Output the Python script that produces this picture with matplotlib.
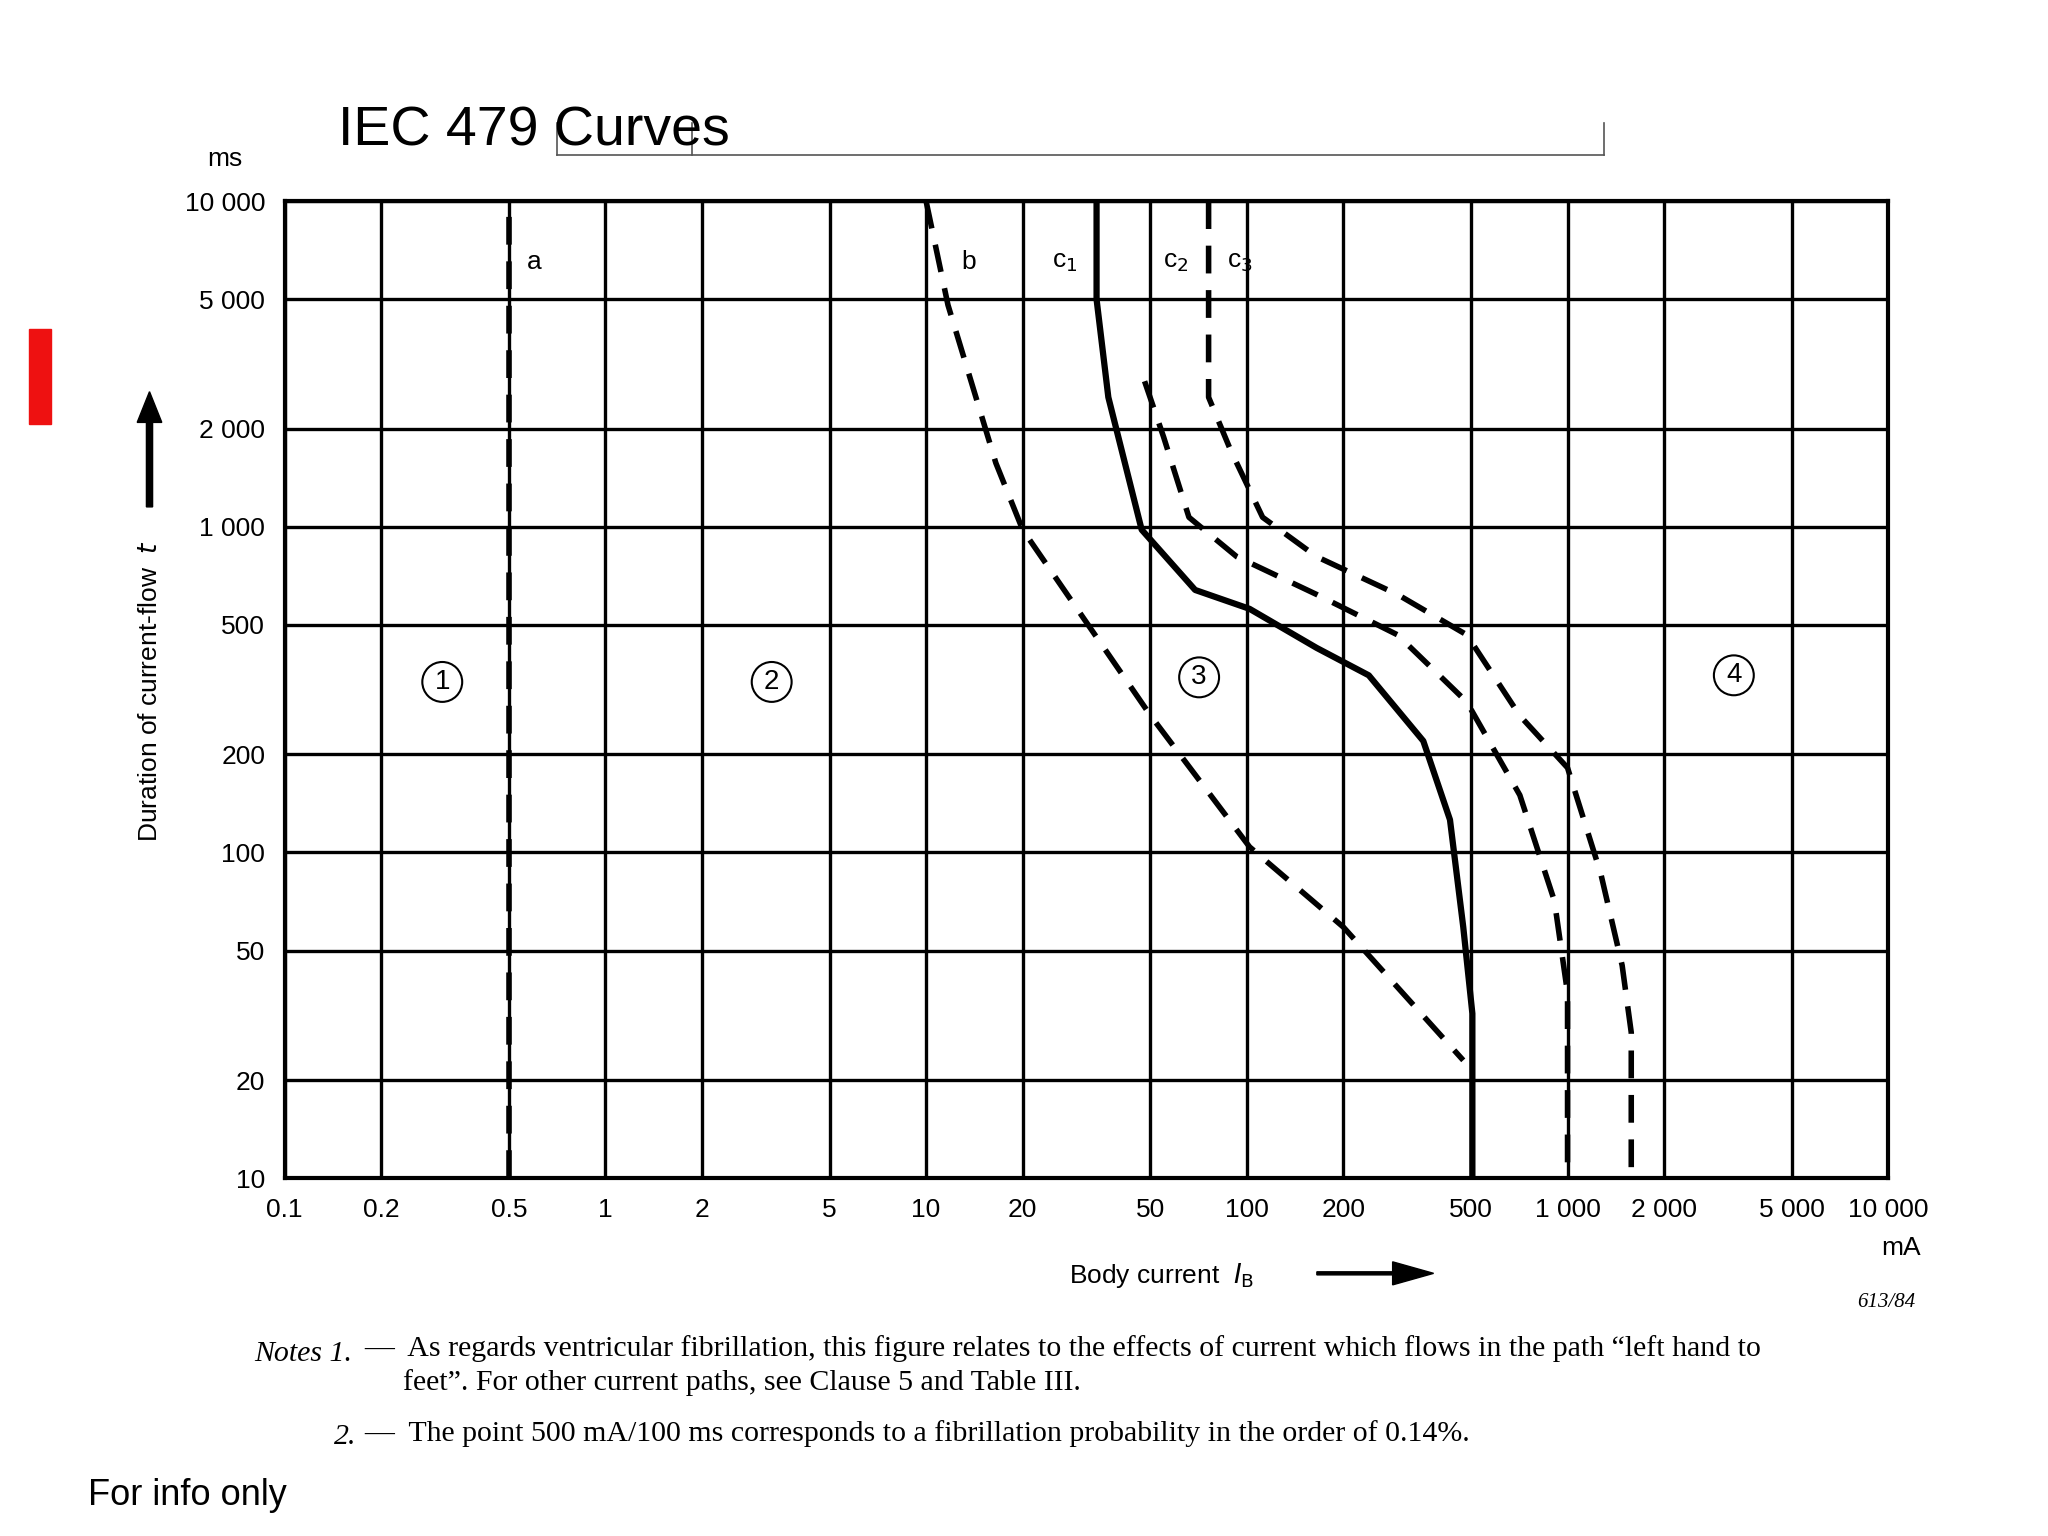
import matplotlib
matplotlib.use("Agg")
import matplotlib.pyplot as plt
from matplotlib.patches import Rectangle

plt.rcParams['font.family'] = ['Liberation Sans', 'DejaVu Sans']

x_ticks = [0.1, 0.2, 0.5, 1, 2, 5, 10, 20, 50, 100, 200, 500, 1000, 2000, 5000, 10000]
x_labels = ["0.1", "0.2", "0.5", "1", "2", "5", "10", "20", "50", "100", "200", "500", "1 000", "2 000", "5 000", "10 000"]
y_ticks = [10, 20, 50, 100, 200, 500, 1000, 2000, 5000, 10000]
y_labels = ["10", "20", "50", "100", "200", "500", "1 000", "2 000", "5 000", "10 000"]

a_x = [0.5, 0.5]; a_t = [10, 10000]
b_x = [10, 11.7, 16.5, 20, 50, 102, 200, 473]
b_t = [10000, 4800, 1570, 980, 264, 104, 59, 23]
c1_x = [34, 34, 37, 47, 69, 102, 165, 240, 355, 430, 473, 505, 505]
c1_t = [10000, 5000, 2500, 980, 640, 560, 425, 350, 220, 126, 59, 32, 10]
c2_x = [48, 55, 66, 93, 165, 295, 485, 710, 910, 1000, 1000]
c2_t = [2800, 1890, 1070, 810, 620, 466, 290, 150, 71, 37, 10]
c3_x = [76, 76, 89, 112, 165, 295, 485, 710, 1000, 1270, 1480, 1580, 1580]
c3_t = [10000, 2500, 1720, 1070, 810, 620, 466, 263, 182, 86, 45, 28, 10]

fig = plt.figure(figsize=(20.48, 15.36), dpi=100)
ax = fig.add_axes([0.139, 0.233, 0.783, 0.636])
ax.set_xscale("log"); ax.set_yscale("log")
ax.set_xlim(0.1, 10000); ax.set_ylim(10, 10000)
ax.set_xticks(x_ticks); ax.set_xticklabels(x_labels)
ax.set_yticks(y_ticks); ax.set_yticklabels(y_labels)
ax.minorticks_off()
ax.tick_params(length=0, labelsize=19, pad=14)
ax.grid(True, color="black", lw=2.4)
for s in ax.spines.values():
    s.set_linewidth(3)

dash = dict(color="black", lw=4, ls=(0, (5, 3)))
ax.plot(a_x, a_t, **dash)
ax.plot(b_x, b_t, **dash)
ax.plot(c1_x, c1_t, color="black", lw=4.5)
ax.plot(c2_x, c2_t, **dash)
ax.plot(c3_x, c3_t, **dash)

for x, t, s in [(0.6, 6500, "a"), (13.6, 6500, "b"), (27, 6500, "c$_1$"), (60, 6500, "c$_2$"), (95, 6500, "c$_3$")]:
    ax.text(x, t, s, fontsize=19, ha="center", va="center")
for x, t, s in [(0.31, 334, "1"), (3.3, 334, "2"), (71, 345, "3"), (3300, 350, "4")]:
    ax.text(x, t, s, fontsize=20, ha="center", va="center",
            bbox=dict(boxstyle="circle,pad=0.25", fc="white", ec="black", lw=1.5))

fig.text(0.11, 0.892, "ms", fontsize=19, ha="center")
fig.text(0.073, 0.55, "Duration of current-flow  $t$", fontsize=19, rotation=90, ha="center", va="center")
fig.patches.append(matplotlib.patches.FancyArrow(0.073, 0.67, 0, 0.055, width=0.003, head_width=0.012,
                                                 head_length=0.02, color="black", transform=fig.transFigure))
fig.text(0.522, 0.165, "Body current  $I_{\\rm B}$", fontsize=19, ha="left")
fig.patches.append(matplotlib.patches.FancyArrow(0.643, 0.171, 0.037, 0, width=0.002, head_width=0.015,
                                                 head_length=0.02, color="black", transform=fig.transFigure))
fig.text(0.928, 0.183, "mA", fontsize=19, ha="center")
fig.text(0.921, 0.149, "613/84", fontsize=15, style="italic", family="Liberation Serif", ha="center")
serif = dict(fontsize=21.5, family="Liberation Serif")
fig.text(0.124, 0.114, "Notes 1.", style="italic", **serif)
fig.text(0.178, 0.117, "—  As regards ventricular fibrillation, this figure relates to the effects of current which flows in the path \u201cleft hand to", **serif)
fig.text(0.197, 0.095, "feet\u201d. For other current paths, see Clause 5 and Table III.", **serif)
fig.text(0.163, 0.06, "2.", style="italic", **serif)
fig.text(0.178, 0.062, "—  The point 500 mA/100 ms corresponds to a fibrillation probability in the order of 0.14%.", **serif)

fig.text(0.165, 0.905, "IEC 479 Curves", fontsize=40, ha="left")
fig.text(0.043, 0.015, "For info only", fontsize=26, ha="left", va="bottom")
fig.patches.append(Rectangle((0.014, 0.724), 0.011, 0.062, color="#ee1111", transform=fig.transFigure))
fig.lines.append(matplotlib.lines.Line2D([0.272, 0.783], [0.899, 0.899], color="#555555", lw=1.2, transform=fig.transFigure))
for xx in [0.272, 0.338, 0.783]:
    fig.lines.append(matplotlib.lines.Line2D([xx, xx], [0.899, 0.92], color="#555555", lw=1.2, transform=fig.transFigure))

fig.savefig("out.png", dpi=100, facecolor="white")
